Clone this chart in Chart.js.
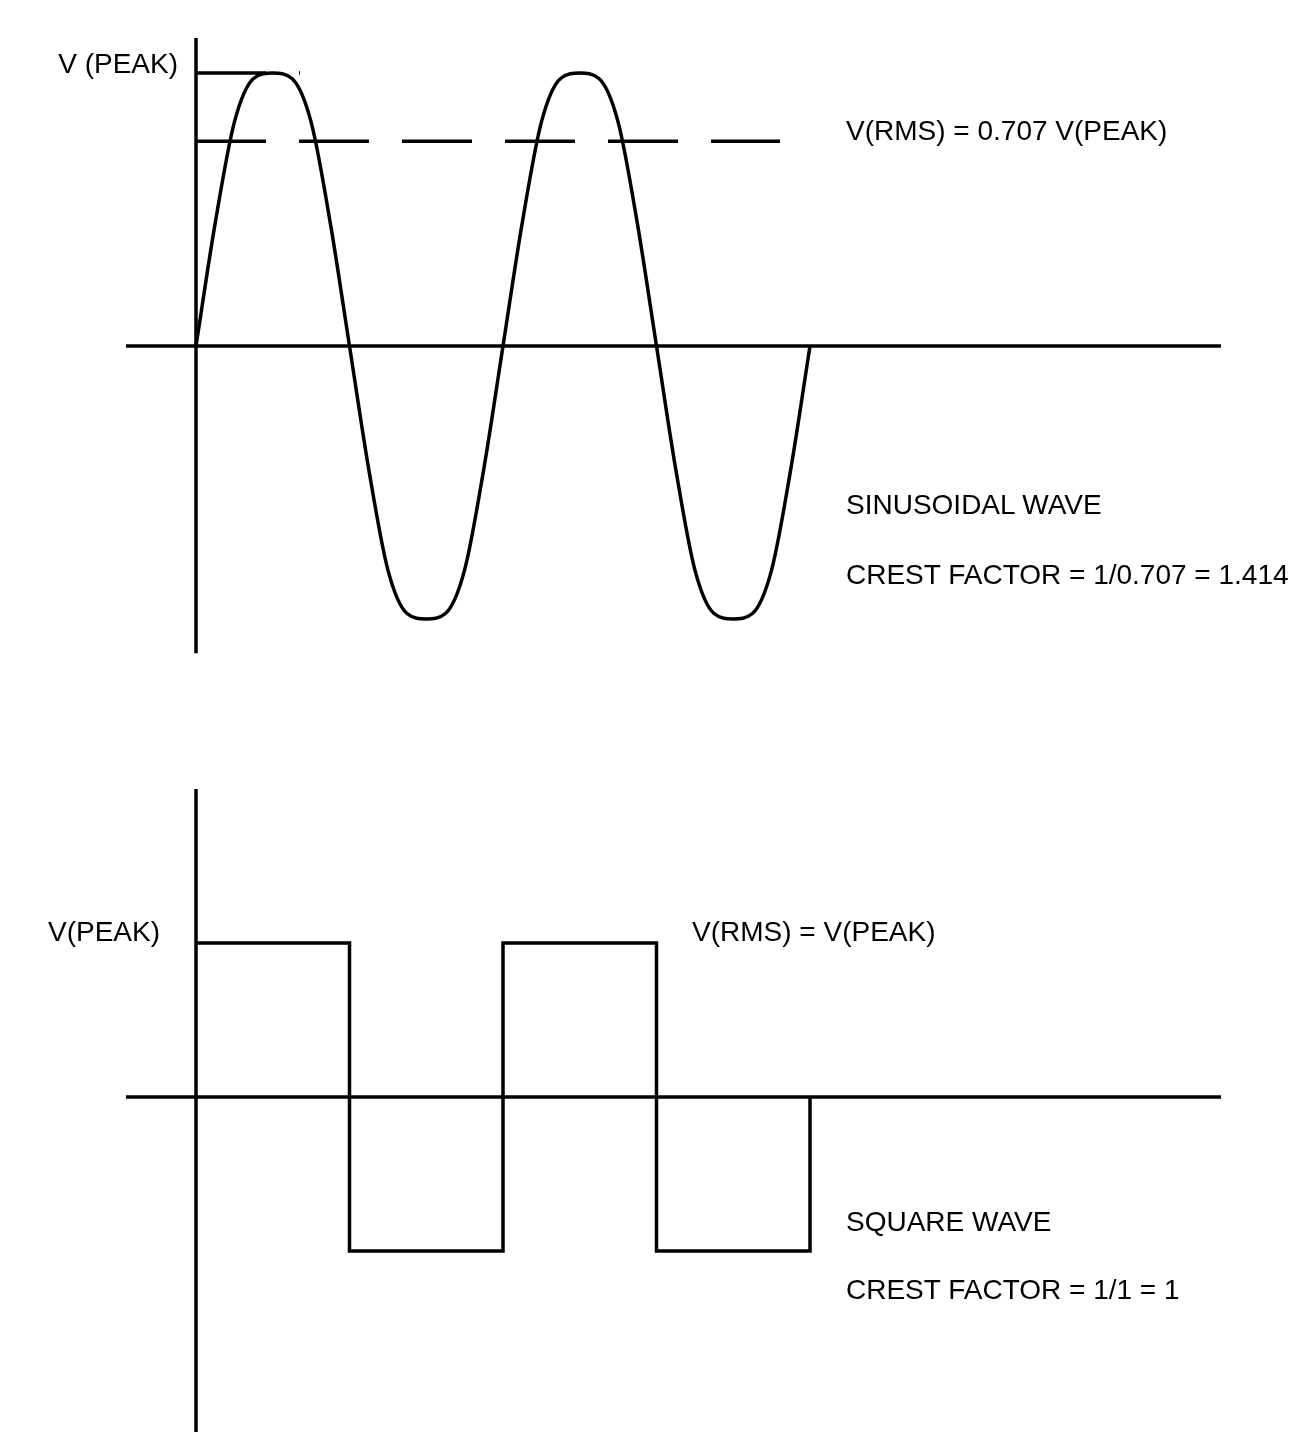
<!DOCTYPE html>
<html><head><meta charset="utf-8">
<script src="https://cdn.jsdelivr.net/npm/chart.js@4"></script>
<style>
body{margin:0;background:#fff;width:1295px;height:1432px;overflow:hidden;position:relative;font-family:"Liberation Sans",Arial,sans-serif}
.c{position:absolute;left:0}
.t{position:absolute;font-size:28px;color:#000;white-space:nowrap;line-height:1;transform:translateY(-50%)}
</style></head><body>
<div class="c" style="top:0;width:1295px;height:700px"><canvas id="c1"></canvas></div>
<div class="c" style="top:720px;width:1295px;height:712px"><canvas id="c2"></canvas></div>
<div class="t" style="right:1117px;top:64px">V (PEAK)</div>
<div class="t" style="left:846px;top:131px">V(RMS) = 0.707 V(PEAK)</div>
<div class="t" style="left:846px;top:505px">SINUSOIDAL WAVE</div>
<div class="t" style="left:846px;top:575px">CREST FACTOR = 1/0.707 = 1.414</div>
<div class="t" style="right:1135px;top:932px">V(PEAK)</div>
<div class="t" style="left:692px;top:932px">V(RMS) = V(PEAK)</div>
<div class="t" style="left:846px;top:1222px">SQUARE WAVE</div>
<div class="t" style="left:846px;top:1290px">CREST FACTOR = 1/1 = 1</div>
<script>
// x in quarter-period units
const sineX = [0,0.25,0.5,0.75,1,1.25,1.5,1.75,2,2.25,2.5,2.75,3,3.25,3.5,3.75,4,4.25,4.5,4.75,5,5.25,5.5,5.75,6,6.25,6.5,6.75,7,7.25,7.5,7.75,8];
const sineY = [0,0.45,0.82,0.98,1,0.98,0.82,0.45,0,-0.45,-0.82,-0.98,-1,-0.98,-0.82,-0.45,0,0.45,0.82,0.98,1,0.98,0.82,0.45,0,-0.45,-0.82,-0.98,-1,-0.98,-0.82,-0.45,0];
const peakLine = [[0,1],[1.355,1]];
const rmsLine = [[0,0.75],[7.61,0.75]];
const axis1H = [[-0.912,0],[13.355,0]];
const axis1V = [[0,1.128],[0,-1.125]];
const squareX = [0,2,2,4,4,6,6,8,8];
const squareY = [1,1,-1,-1,1,1,-1,-1,0];
const axis2H = [[-0.912,0],[13.355,0]];
const axis2V = [[0,2.0],[0,-2.2]];

const pts = a => a.map(p=>({x:p[0],y:p[1]}));
function ds(data, extra){return Object.assign({data, borderColor:'#000', borderWidth:3.5, pointRadius:0, fill:false, tension:0, borderCapStyle:'butt'}, extra||{});}
function mk(id, datasets, ymin, ymax){
  new Chart(document.getElementById(id),{type:'line',data:{datasets},
    options:{responsive:true,maintainAspectRatio:false,animation:false,
      layout:{padding:0},plugins:{legend:{display:false},tooltip:{enabled:false}},
      scales:{x:{type:'linear',display:false,min:-196/76.75,max:(1295-196)/76.75},
              y:{type:'linear',display:false,min:ymin,max:ymax}}}});
}
mk('c1',[
  ds(pts(axis1H)), ds(pts(axis1V)),
  ds(sineX.map((x,i)=>({x,y:sineY[i]})),{cubicInterpolationMode:'monotone'}),
  ds(pts(peakLine),{borderDash:[70,33]}),
  ds(pts(rmsLine),{borderDash:[70,33]})
], -(700-346)/273, 346/273);
mk('c2',[
  ds(pts(axis2H)), ds(pts(axis2V)),
  ds(squareX.map((x,i)=>({x,y:squareY[i]})))
], -(712-377)/154, 377/154);
</script></body></html>
